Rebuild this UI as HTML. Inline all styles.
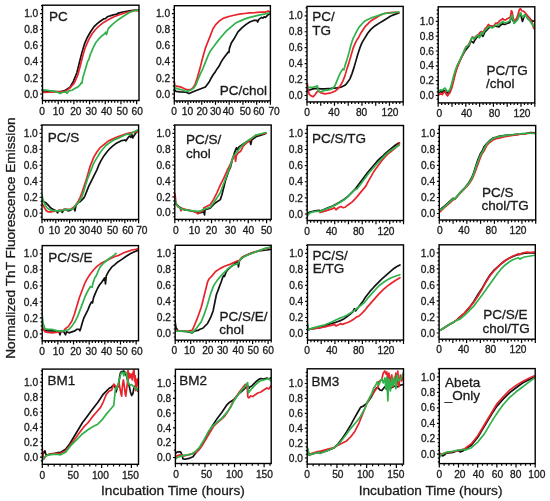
<!DOCTYPE html>
<html><head><meta charset="utf-8"><title>ThT Fluorescence</title>
<style>
html,body{margin:0;padding:0;background:#fff;}
body{width:550px;height:501px;overflow:hidden;}
svg{display:block;}
text{font-family:"Liberation Sans",Arial,Helvetica,sans-serif;fill:#1a1a1a;stroke:#1a1a1a;stroke-width:0.3px;}
.yl{font-size:10.2px;text-anchor:end;}
.xl{font-size:10.2px;text-anchor:middle;}
.pl{font-size:13.5px;}
.at{font-size:13.7px;}
</style></head>
<body>
<svg width="550" height="501" viewBox="0 0 550 501">
<defs><clipPath id="cR1C1"><rect x="42.5" y="5.2" width="96.5" height="95.3"/></clipPath><clipPath id="cR1C2"><rect x="174.3" y="5.7" width="96.1" height="95.2"/></clipPath><clipPath id="cR1C3"><rect x="307" y="6.4" width="96.2" height="95.5"/></clipPath><clipPath id="cR1C4"><rect x="438.2" y="6.8" width="96.6" height="96.1"/></clipPath><clipPath id="cR2C1"><rect x="42" y="125" width="96.6" height="94.5"/></clipPath><clipPath id="cR2C2"><rect x="174.8" y="125" width="96.4" height="94.4"/></clipPath><clipPath id="cR2C3"><rect x="307.2" y="125.5" width="96.3" height="95"/></clipPath><clipPath id="cR2C4"><rect x="439.3" y="125.5" width="96.4" height="94.5"/></clipPath><clipPath id="cR3C1"><rect x="42.2" y="245.6" width="96.3" height="95.2"/></clipPath><clipPath id="cR3C2"><rect x="175.2" y="245.3" width="96" height="94.9"/></clipPath><clipPath id="cR3C3"><rect x="307.5" y="244.9" width="96" height="95.2"/></clipPath><clipPath id="cR3C4"><rect x="439.1" y="244.8" width="96.2" height="94.4"/></clipPath><clipPath id="cR4C1"><rect x="42.3" y="369.1" width="96.2" height="95.2"/></clipPath><clipPath id="cR4C2"><rect x="175.4" y="369.3" width="95.8" height="94.2"/></clipPath><clipPath id="cR4C3"><rect x="307.2" y="368.8" width="96.3" height="95.3"/></clipPath><clipPath id="cR4C4"><rect x="439.3" y="368.6" width="95.9" height="95"/></clipPath></defs>
<rect width="550" height="501" fill="#fff"/>
<g clip-path="url(#cR1C1)" fill="none" stroke-width="1.7" stroke-linejoin="round" stroke-linecap="round"><polyline points="40,90.82 51.98,91.42 59.96,91.82 65,90.51 70.08,87.12 73.47,81.19 76.86,72.71 79.41,62.54 81.95,52.37 84.49,43.9 87.03,37.97 90.42,32.03 93.81,26.95 97.2,23.56 100.59,21.02 103.98,18.81 105.68,18.47 107.37,16.78 112.46,15.08 115.85,14.24 116.69,14.75 117.54,13.39 122.63,12.03 129.41,10.85 135,10 138.8,10.4" stroke="#111111"/><polyline points="40,92.42 49.98,92.22 59.96,91.62 65,91.36 70.08,87.97 74.32,82.88 77.71,75.25 80.25,65.93 82.8,55.76 85.34,47.29 88.73,39.66 92.12,33.73 95.51,29.49 98.9,26.1 103.98,22.2 109.07,19.32 114.15,16.78 119.24,14.75 126.02,12.54 135,10.51 138.8,10.6" stroke="#e8232b"/><polyline points="40,89.83 45.99,90.03 49.98,90.82 53.97,91.42 57.96,92.22 59.96,93.42 62.95,92.22 65.95,91.82 66.95,93.42 68.94,90.82 71.94,90.23 75.17,88.31 77.71,87.12 80.25,84.58 81.1,82.88 81.95,83.22 82.8,77.8 85.34,69.32 87.88,60.85 88.73,60 90.42,54.07 91.27,52.37 92.97,48.14 95.51,43.05 98.9,38.81 102.29,35.42 104.83,33.73 105.68,32.03 106.53,34.58 108.22,28.64 112.46,24.41 117.54,20.17 122.63,16.78 129.41,12.54 135,10.51 138.8,10.2" stroke="#2fb24a"/></g>
<path d="M41,98.02H42.5M40.1,94H42.5M41,89.98H42.5M41,85.96H42.5M41,81.94H42.5M40.1,77.92H42.5M41,73.9H42.5M41,69.88H42.5M41,65.86H42.5M40.1,61.84H42.5M41,57.82H42.5M41,53.8H42.5M41,49.78H42.5M40.1,45.76H42.5M41,41.74H42.5M41,37.72H42.5M41,33.7H42.5M40.1,29.68H42.5M41,25.66H42.5M41,21.64H42.5M41,17.62H42.5M40.1,13.6H42.5M41,9.58H42.5M41,5.56H42.5M42.5,100.5V104.3M45.64,100.5V102.7M48.78,100.5V102.7M51.91,100.5V102.7M55.05,100.5V102.7M58.19,100.5V104.3M61.33,100.5V102.7M64.47,100.5V102.7M67.61,100.5V102.7M70.74,100.5V102.7M73.88,100.5V104.3M77.02,100.5V102.7M80.16,100.5V102.7M83.3,100.5V102.7M86.43,100.5V102.7M89.57,100.5V104.3M92.71,100.5V102.7M95.85,100.5V102.7M98.99,100.5V102.7M102.13,100.5V102.7M105.26,100.5V104.3M108.4,100.5V102.7M111.54,100.5V102.7M114.68,100.5V102.7M117.82,100.5V102.7M120.96,100.5V104.3M124.09,100.5V102.7M127.23,100.5V102.7M130.37,100.5V102.7M133.51,100.5V102.7M136.65,100.5V104.3" stroke="#000" stroke-width="1.2" fill="none"/>
<rect x="42.5" y="5.2" width="96.5" height="95.3" fill="none" stroke="#000" stroke-width="1.4"/>
<text x="38.3" y="97.65" class="yl">0.0</text>
<text x="38.3" y="81.57" class="yl">0.2</text>
<text x="38.3" y="65.49" class="yl">0.4</text>
<text x="38.3" y="49.41" class="yl">0.6</text>
<text x="38.3" y="33.33" class="yl">0.8</text>
<text x="38.3" y="17.25" class="yl">1.0</text>
<text x="42.2" y="114.7" class="xl">0</text>
<text x="58.4" y="114.7" class="xl">10</text>
<text x="75.8" y="114.7" class="xl">20</text>
<text x="91.2" y="114.7" class="xl">30</text>
<text x="106.6" y="114.7" class="xl">40</text>
<text x="122.2" y="114.7" class="xl">50</text>
<text x="137.2" y="114.7" class="xl">60</text>
<text x="49.1" y="20.8" class="pl">PC</text>
<g clip-path="url(#cR1C2)" fill="none" stroke-width="1.7" stroke-linejoin="round" stroke-linecap="round"><polyline points="174,88.83 175.99,91.43 179.98,91.82 185.97,92.22 188.97,93.42 195,90.93 200.19,88.98 205.37,87.04 207.32,84.45 209.26,81.85 211.2,77.96 213.15,74.72 215.09,72.13 217.04,68.89 218.98,66.3 220.93,62.41 222.87,59.17 224.82,56.58 226.76,53.98 228.45,51.78 228.96,52.3 229.48,48.15 231.3,42.96 233.89,39.07 237.96,31.83 241.88,27.91 245.81,24.63 249.74,22.02 253.66,20.45 256.94,20.45 257.59,22.02 258.9,19.4 261.52,17.43 262.83,18.09 264.14,16.78 265.45,17.43 266.75,16.13 268.06,14.82 270.03,13.51" stroke="#111111"/><polyline points="174,79.85 174.99,85.84 177.99,86.44 181.98,87.43 185.97,89.43 187.97,89.83 190.96,89.43 192.96,87.83 194.95,84.84 197.59,76.67 200.19,67.59 202.78,57.22 205.37,48.15 207.96,41.67 210.56,35.19 213.09,28.56 215.71,24.63 219.63,20.71 223.56,18.09 228.8,16.52 234.03,15.21 239.27,14.16 244.5,13.51 249.74,12.85 254.97,12.59 260.21,12.2 265.45,12.2 268.06,10.89 270.03,12.2" stroke="#e8232b"/><polyline points="174,81.84 174.99,87.83 177.99,88.83 181.98,89.83 185.97,91.43 188.97,90.83 191.96,89.43 193.96,87.83 195.95,84.84 197.59,80.56 200.19,74.08 202.78,68.89 205.37,62.41 207.96,55.93 210.56,50.74 214.45,45.56 218.33,40.37 221.58,36.48 226.18,31.18 231.41,26.6 235.34,23.32 239.27,21.36 244.5,19.14 249.74,17.43 254.97,16.13 260.21,14.82 265.45,13.9 270.03,12.85" stroke="#2fb24a"/></g>
<path d="M172.8,98.02H174.3M171.9,94H174.3M172.8,89.98H174.3M172.8,85.96H174.3M172.8,81.94H174.3M171.9,77.92H174.3M172.8,73.9H174.3M172.8,69.88H174.3M172.8,65.86H174.3M171.9,61.84H174.3M172.8,57.82H174.3M172.8,53.8H174.3M172.8,49.78H174.3M171.9,45.76H174.3M172.8,41.74H174.3M172.8,37.72H174.3M172.8,33.7H174.3M171.9,29.68H174.3M172.8,25.66H174.3M172.8,21.64H174.3M172.8,17.62H174.3M171.9,13.6H174.3M172.8,9.58H174.3M174.3,100.9V104.7M177.05,100.9V103.1M179.79,100.9V103.1M182.54,100.9V103.1M185.28,100.9V103.1M188.03,100.9V104.7M190.77,100.9V103.1M193.52,100.9V103.1M196.27,100.9V103.1M199.01,100.9V103.1M201.76,100.9V104.7M204.5,100.9V103.1M207.25,100.9V103.1M209.99,100.9V103.1M212.74,100.9V103.1M215.49,100.9V104.7M218.23,100.9V103.1M220.98,100.9V103.1M223.72,100.9V103.1M226.47,100.9V103.1M229.21,100.9V104.7M231.96,100.9V103.1M234.71,100.9V103.1M237.45,100.9V103.1M240.2,100.9V103.1M242.94,100.9V104.7M245.69,100.9V103.1M248.43,100.9V103.1M251.18,100.9V103.1M253.93,100.9V103.1M256.67,100.9V104.7M259.42,100.9V103.1M262.16,100.9V103.1M264.91,100.9V103.1M267.65,100.9V103.1M270.4,100.9V104.7" stroke="#000" stroke-width="1.2" fill="none"/>
<rect x="174.3" y="5.7" width="96.1" height="95.2" fill="none" stroke="#000" stroke-width="1.4"/>
<text x="170.1" y="97.65" class="yl">0.0</text>
<text x="170.1" y="81.57" class="yl">0.2</text>
<text x="170.1" y="65.49" class="yl">0.4</text>
<text x="170.1" y="49.41" class="yl">0.6</text>
<text x="170.1" y="33.33" class="yl">0.8</text>
<text x="170.1" y="17.25" class="yl">1.0</text>
<text x="174.2" y="115.1" class="xl">0</text>
<text x="187.5" y="115.1" class="xl">10</text>
<text x="202.1" y="115.1" class="xl">20</text>
<text x="215.6" y="115.1" class="xl">30</text>
<text x="228.3" y="115.1" class="xl">40</text>
<text x="245.3" y="115.1" class="xl">50</text>
<text x="258.8" y="115.1" class="xl">60</text>
<text x="274.1" y="115.1" class="xl">70</text>
<text x="219.7" y="95.3" class="pl">PC/chol</text>
<g clip-path="url(#cR1C3)" fill="none" stroke-width="1.7" stroke-linejoin="round" stroke-linecap="round"><polyline points="307.4,90.83 309.99,89.83 312.98,88.83 316.98,88.43 320.97,88.83 324.96,88.83 330.95,88.43 336.94,87.83 340.93,87.24 343.92,85.84 345.92,84.44 347.91,81.85 349.91,78.85 351.91,73.86 353.9,67.87 355.9,60.89 357.89,53.9 359.89,47.91 361.89,42.92 364.88,37.93 367.87,32.94 370.87,29.35 374.86,25.96 378.85,23.36 382.84,20.97 386.84,18.57 390.83,15.98 394.82,14.38 398.81,12.98" stroke="#111111"/><polyline points="307.4,83.84 307.99,88.83 308.99,93.82 310.99,95.82 312.98,96.82 314.98,94.82 316.98,91.83 318.97,91.23 320.97,92.82 324.96,93.82 327.95,93.42 330.95,92.82 334.94,91.23 337.93,88.83 340.93,84.84 342.92,80.85 344.92,75.86 346.92,68.87 348.91,62.88 350.91,55.9 352.9,48.91 354.9,43.92 356.9,39.93 358.89,36.94 360.89,32.94 362.88,29.95 364.88,26.96 367.87,23.96 370.87,20.97 374.86,18.57 378.85,15.98 382.84,13.98 386.84,12.98 392.82,12.39 398.81,12.39" stroke="#e8232b"/><polyline points="307.4,87.83 309.99,87.44 312.98,87.24 315.98,86.44 317.38,85.84 317.97,90.83 319.97,91.83 321.97,91.23 324.96,90.43 328.95,89.83 331.95,88.83 334.94,85.84 336.94,80.85 338.93,75.86 340.93,71.87 342.92,68.87 343.92,69.87 344.92,65.88 346.92,59.89 348.91,52.9 350.91,44.92 352.9,38.93 354.9,34.94 356.9,30.95 358.89,27.36 361.89,23.96 364.88,20.97 368.87,18.97 372.86,17.38 376.86,15.98 380.85,14.58 384.84,13.38 390.83,12.98 398.81,11.99" stroke="#2fb24a"/></g>
<path d="M305.5,99.48H307M304.6,95.5H307M305.5,91.52H307M305.5,87.53H307M305.5,83.55H307M304.6,79.56H307M305.5,75.58H307M305.5,71.59H307M305.5,67.61H307M304.6,63.62H307M305.5,59.63H307M305.5,55.65H307M305.5,51.66H307M304.6,47.68H307M305.5,43.69H307M305.5,39.71H307M305.5,35.72H307M304.6,31.74H307M305.5,27.75H307M305.5,23.77H307M305.5,19.78H307M304.6,15.8H307M305.5,11.81H307M305.5,7.83H307M307,101.9V105.7M310.44,101.9V104.1M313.87,101.9V104.1M317.31,101.9V104.1M320.74,101.9V105.7M324.18,101.9V104.1M327.61,101.9V104.1M331.05,101.9V104.1M334.49,101.9V105.7M337.92,101.9V104.1M341.36,101.9V104.1M344.79,101.9V104.1M348.23,101.9V105.7M351.66,101.9V104.1M355.1,101.9V104.1M358.54,101.9V104.1M361.97,101.9V105.7M365.41,101.9V104.1M368.84,101.9V104.1M372.28,101.9V104.1M375.71,101.9V105.7M379.15,101.9V104.1M382.59,101.9V104.1M386.02,101.9V104.1M389.46,101.9V105.7M392.89,101.9V104.1M396.33,101.9V104.1M399.76,101.9V104.1M403.2,101.9V105.7" stroke="#000" stroke-width="1.2" fill="none"/>
<rect x="307" y="6.4" width="96.2" height="95.5" fill="none" stroke="#000" stroke-width="1.4"/>
<text x="302.8" y="99.15" class="yl">0.0</text>
<text x="302.8" y="83.21" class="yl">0.2</text>
<text x="302.8" y="67.27" class="yl">0.4</text>
<text x="302.8" y="51.33" class="yl">0.6</text>
<text x="302.8" y="35.39" class="yl">0.8</text>
<text x="302.8" y="19.45" class="yl">1.0</text>
<text x="307" y="116.1" class="xl">0</text>
<text x="334" y="116.1" class="xl">40</text>
<text x="361.6" y="116.1" class="xl">80</text>
<text x="390" y="116.1" class="xl">120</text>
<text x="312.2" y="20.9" class="pl">PC/</text>
<text x="312.2" y="34.5" class="pl">TG</text>
<g clip-path="url(#cR1C4)" fill="none" stroke-width="1.7" stroke-linejoin="round" stroke-linecap="round"><polyline points="438.6,92.82 440.4,91.62 442.2,92.22 444,90.42 445.2,91.02 446.4,92.82 448.2,92.82 450,91.02 451.81,85.62 453.61,78.42 455.41,71.81 457.21,66.41 459.01,62.21 464.98,50.91 466.98,48.42 468.97,45.92 470.97,40.93 473.46,42.93 474.96,39.94 476.96,36.94 478.95,36.44 480.95,34.45 482.94,36.44 484.94,31.95 486.94,29.96 488.93,27.96 490.93,25.96 492.92,26.46 494.92,25.96 496.92,26.46 498.91,26.96 500.91,24.97 502.63,23.7 504.16,24.47 505.69,24.08 507.21,23.32 508.74,22.94 509.89,22.18 511.03,17.6 511.79,16.45 512.94,20.27 514.08,22.56 515.61,21.03 517.14,19.89 518.66,16.45 519.81,13.78 520.57,13.4 521.72,18.74 522.48,21.41 523.63,17.98 524.77,14.92 526.3,14.92 527.82,16.45 529.35,17.98 530.88,19.89 532.4,21.03 533.55,21.03 534.31,20.65" stroke="#111111"/><polyline points="438.6,95.22 440.4,93.42 442.2,94.62 444,92.22 445.2,91.62 446.4,94.62 447.6,95.82 450,92.82 451.81,88.02 453.61,80.82 455.41,73.61 457.21,67.61 459.01,63.41 465.98,46.92 467.97,45.43 469.97,41.93 472.47,36.94 473.96,37.94 475.46,36.94 476.96,35.45 478.45,34.45 479.95,32.45 481.45,31.45 482.94,32.95 484.94,28.96 486.94,26.96 488.43,24.47 489.93,25.96 491.93,26.46 493.92,25.47 495.92,22.97 497.42,23.47 499.41,20.97 500.91,19.98 502.63,18.74 504.16,19.89 505.69,19.89 507.21,18.74 508.74,17.98 510.27,17.21 511.41,10.73 512.18,11.87 512.94,16.45 514.08,21.03 515.61,19.89 517.14,17.21 518.28,13.4 519.43,9.58 520.57,8.82 521.72,10.73 523.24,11.11 524.77,12.25 526.3,14.16 527.82,16.45 529.35,17.98 530.88,20.27 532.4,23.32 533.55,27.9 534.31,28.66" stroke="#e8232b"/><polyline points="438.6,91.62 440.4,89.82 442.2,90.42 444,88.62 445.2,88.02 446.4,90.42 448.2,91.62 450,89.22 451.81,83.22 453.61,76.01 455.41,70.01 457.21,65.21 459.01,62.21 465.48,47.92 466.98,46.42 468.97,44.93 470.47,40.93 471.97,37.44 473.46,38.94 474.96,37.94 476.46,35.94 477.95,34.95 479.45,37.94 480.45,35.94 481.45,32.45 482.94,33.95 484.44,30.95 485.94,29.46 487.44,27.96 488.93,26.46 490.43,26.96 491.93,27.96 493.92,26.96 495.92,24.97 497.42,25.47 498.91,24.47 500.41,22.97 501.91,22.47 502.63,21.41 504.16,22.56 505.69,22.94 507.21,22.18 508.74,21.41 510.27,20.27 511.41,16.07 512.18,15.31 512.94,18.74 514.08,23.32 515.61,21.79 517.14,20.27 518.66,17.21 519.81,13.78 520.57,12.63 521.72,15.69 523.24,17.21 524.77,14.54 526.3,16.45 527.82,19.12 529.35,20.27 530.88,22.56 532.4,24.85 533.55,26.37 534.31,25.61" stroke="#2fb24a"/></g>
<path d="M436.7,99.21H438.2M435.8,95.5H438.2M436.7,91.79H438.2M436.7,88.08H438.2M436.7,84.37H438.2M435.8,80.66H438.2M436.7,76.95H438.2M436.7,73.24H438.2M436.7,69.53H438.2M435.8,65.82H438.2M436.7,62.11H438.2M436.7,58.4H438.2M436.7,54.69H438.2M435.8,50.98H438.2M436.7,47.27H438.2M436.7,43.56H438.2M436.7,39.85H438.2M435.8,36.14H438.2M436.7,32.43H438.2M436.7,28.72H438.2M436.7,25.01H438.2M435.8,21.3H438.2M436.7,17.59H438.2M436.7,13.88H438.2M436.7,10.17H438.2M438.2,102.9V106.7M441.65,102.9V105.1M445.1,102.9V105.1M448.55,102.9V105.1M452,102.9V106.7M455.45,102.9V105.1M458.9,102.9V105.1M462.35,102.9V105.1M465.8,102.9V106.7M469.25,102.9V105.1M472.7,102.9V105.1M476.15,102.9V105.1M479.6,102.9V106.7M483.05,102.9V105.1M486.5,102.9V105.1M489.95,102.9V105.1M493.4,102.9V106.7M496.85,102.9V105.1M500.3,102.9V105.1M503.75,102.9V105.1M507.2,102.9V106.7M510.65,102.9V105.1M514.1,102.9V105.1M517.55,102.9V105.1M521,102.9V106.7M524.45,102.9V105.1M527.9,102.9V105.1M531.35,102.9V105.1M534.8,102.9V106.7" stroke="#000" stroke-width="1.2" fill="none"/>
<rect x="438.2" y="6.8" width="96.6" height="96.1" fill="none" stroke="#000" stroke-width="1.4"/>
<text x="434" y="99.15" class="yl">0.0</text>
<text x="434" y="84.31" class="yl">0.2</text>
<text x="434" y="69.47" class="yl">0.4</text>
<text x="434" y="54.63" class="yl">0.6</text>
<text x="434" y="39.79" class="yl">0.8</text>
<text x="434" y="24.95" class="yl">1.0</text>
<text x="439.4" y="117.1" class="xl">0</text>
<text x="466.6" y="117.1" class="xl">40</text>
<text x="494.5" y="117.1" class="xl">80</text>
<text x="522" y="117.1" class="xl">120</text>
<text x="486.4" y="75.2" class="pl">PC/TG</text>
<text x="486" y="87.7" class="pl">/chol</text>
<g clip-path="url(#cR2C1)" fill="none" stroke-width="1.7" stroke-linejoin="round" stroke-linecap="round"><polyline points="42,200.84 43.99,201.84 45.99,202.84 47.98,204.84 49.98,207.23 51.98,208.83 53.97,209.83 55.97,210.82 57.56,212.82 58.96,210.43 60.96,210.82 62.36,212.42 63.95,209.23 65.95,209.23 67.94,210.82 69.94,210.43 71.94,209.23 73.93,207.83 74.93,210.82 75.93,205.83 77.92,202.84 79.92,201.84 81.92,199.85 82.91,198.85 83.91,197.85 84.91,195.85 86.91,190.86 88.9,185.87 90.9,181.88 92.89,177.89 94.89,173.9 96.89,169.91 98.88,164.92 100.88,160.92 103.87,155.93 106.87,151.94 109.86,148.55 112.85,145.95 115.85,143.56 118.84,141.96 121.84,140.56 124.83,139.97 125.83,140.96 127.82,137.97 129.82,135.97 130.82,137.37 131.82,134.58 132.81,137.97 133.81,135.97 135.81,132.98 137.8,130.98" stroke="#111111"/><polyline points="42,203.84 43.99,206.83 45.99,210.43 47.98,211.82 50.98,211.82 53.97,211.42 56.97,210.82 59.96,210.43 63.95,209.83 67.94,209.23 70.94,209.23 73.93,206.83 75.93,204.84 77.92,201.84 79.92,197.85 81.92,192.86 83.91,186.87 85.91,180.88 87.9,173.9 89.9,166.91 91.9,161.92 93.89,156.93 96.89,151.94 99.88,147.95 103.87,144.56 107.86,141.36 111.86,139.37 115.85,137.57 119.84,135.97 123.83,134.58 127.82,133.38 131.82,132.58 135.81,131.98 138.8,131.38" stroke="#e8232b"/><polyline points="42,194.86 42.99,199.85 44.99,204.84 46.99,207.83 48.98,209.23 51.98,210.43 54.97,210.82 57.96,210.82 60.96,210.82 63.95,209.83 67.94,209.83 71.94,209.23 73.93,207.83 75.93,204.84 77.92,202.84 79.92,200.45 81.92,196.85 83.91,190.86 85.91,183.88 87.9,177.89 89.9,172.9 91.9,167.91 93.89,162.92 96.89,157.93 99.88,152.94 102.87,148.95 105.87,145.55 109.86,142.56 113.85,139.97 117.84,138.37 121.84,136.57 124.83,134.98 127.82,133.98 129.82,134.98 131.82,132.98 134.81,131.38 137.8,129.99" stroke="#2fb24a"/></g>
<path d="M40.5,217.19H42M39.6,213.2H42M40.5,209.21H42M40.5,205.22H42M40.5,201.23H42M39.6,197.24H42M40.5,193.25H42M40.5,189.26H42M40.5,185.27H42M39.6,181.28H42M40.5,177.29H42M40.5,173.3H42M40.5,169.31H42M39.6,165.32H42M40.5,161.33H42M40.5,157.34H42M40.5,153.35H42M39.6,149.36H42M40.5,145.37H42M40.5,141.38H42M40.5,137.39H42M39.6,133.4H42M40.5,129.41H42M40.5,125.42H42M42,219.5V223.3M44.76,219.5V221.7M47.52,219.5V221.7M50.28,219.5V221.7M53.04,219.5V221.7M55.8,219.5V223.3M58.56,219.5V221.7M61.32,219.5V221.7M64.08,219.5V221.7M66.84,219.5V221.7M69.6,219.5V223.3M72.36,219.5V221.7M75.12,219.5V221.7M77.88,219.5V221.7M80.64,219.5V221.7M83.4,219.5V223.3M86.16,219.5V221.7M88.92,219.5V221.7M91.68,219.5V221.7M94.44,219.5V221.7M97.2,219.5V223.3M99.96,219.5V221.7M102.72,219.5V221.7M105.48,219.5V221.7M108.24,219.5V221.7M111,219.5V223.3M113.76,219.5V221.7M116.52,219.5V221.7M119.28,219.5V221.7M122.04,219.5V221.7M124.8,219.5V223.3M127.56,219.5V221.7M130.32,219.5V221.7M133.08,219.5V221.7M135.84,219.5V221.7M138.6,219.5V223.3" stroke="#000" stroke-width="1.2" fill="none"/>
<rect x="42" y="125" width="96.6" height="94.5" fill="none" stroke="#000" stroke-width="1.4"/>
<text x="37.8" y="216.85" class="yl">0.0</text>
<text x="37.8" y="200.89" class="yl">0.2</text>
<text x="37.8" y="184.93" class="yl">0.4</text>
<text x="37.8" y="168.97" class="yl">0.6</text>
<text x="37.8" y="153.01" class="yl">0.8</text>
<text x="37.8" y="137.05" class="yl">1.0</text>
<text x="41.3" y="233.7" class="xl">0</text>
<text x="54.4" y="233.7" class="xl">10</text>
<text x="70" y="233.7" class="xl">20</text>
<text x="84.6" y="233.7" class="xl">30</text>
<text x="96.4" y="233.7" class="xl">40</text>
<text x="112.6" y="233.7" class="xl">50</text>
<text x="127.8" y="233.7" class="xl">60</text>
<text x="141.8" y="233.7" class="xl">70</text>
<text x="47.7" y="141.8" class="pl">PC/S</text>
<g clip-path="url(#cR2C2)" fill="none" stroke-width="1.7" stroke-linejoin="round" stroke-linecap="round"><polyline points="175,201.84 176.99,204.84 178.99,206.83 181.98,208.83 184.98,209.83 188.97,210.43 192.96,211.22 195.95,211.82 198.95,212.82 201.94,212.42 203.34,210.82 204.54,214.82 205,209.8 210.09,208.1 215.19,203.01 220.28,199.61 221.98,194.52 223.68,187.72 225.37,180.93 227.07,175.84 228.77,170.75 230.47,167.35 232.16,160.56 234.71,152.07 236.41,147.83 237.26,149.52 238.96,146.98 241.5,145.28 244.9,142.73 249.14,141.04 249.99,141.54 250.84,144.43 251.69,140.19 255.93,136.79 261.03,135.09 265.78,133.4" stroke="#111111"/><polyline points="175,193.86 175.99,203.84 177.99,206.83 179.99,207.83 180.98,210.82 181.98,208.43 184.98,209.23 188.97,210.43 192.96,211.22 195.95,212.42 197.95,213.82 199.95,211.82 202.94,210.82 203.94,207.83 205,207.25 210.09,204.7 213.49,199.61 216.88,192.82 220.28,185.18 223.68,178.39 227.07,170.75 230.47,163.96 233.01,157.16 234.71,155.47 235.56,161.41 236.41,155.47 238.11,152.92 240.65,151.22 241.5,149.52 243.2,146.13 245.75,143.58 249.14,141.04 252.54,137.64 255.93,135.09 261.03,134.24 265.78,133.06" stroke="#e8232b"/><polyline points="175,199.85 175.99,203.84 177.99,206.43 180.98,208.83 184.98,209.83 188.97,210.43 192.96,210.82 196.95,211.42 200.94,210.82 203.94,209.23 205,208.95 210.09,207.25 213.49,203.01 216.88,197.91 220.28,192.82 222.83,186.03 225.37,179.24 227.92,172.44 230.47,165.65 232.16,159.71 233.86,155.47 235.56,153.77 238.11,150.37 240.65,146.98 244.05,143.58 248.29,140.19 252.54,137.64 255.93,135.09 259.33,134.24 265.78,132.55" stroke="#2fb24a"/></g>
<path d="M173.3,216.77H174.8M172.4,212.8H174.8M173.3,208.83H174.8M173.3,204.86H174.8M173.3,200.89H174.8M172.4,196.92H174.8M173.3,192.95H174.8M173.3,188.98H174.8M173.3,185.01H174.8M172.4,181.04H174.8M173.3,177.07H174.8M173.3,173.1H174.8M173.3,169.13H174.8M172.4,165.16H174.8M173.3,161.19H174.8M173.3,157.22H174.8M173.3,153.25H174.8M172.4,149.28H174.8M173.3,145.31H174.8M173.3,141.34H174.8M173.3,137.37H174.8M172.4,133.4H174.8M173.3,129.43H174.8M173.3,125.46H174.8M174.8,219.4V223.2M178.47,219.4V221.6M182.14,219.4V221.6M185.82,219.4V221.6M189.49,219.4V221.6M193.16,219.4V223.2M196.83,219.4V221.6M200.51,219.4V221.6M204.18,219.4V221.6M207.85,219.4V221.6M211.52,219.4V223.2M215.2,219.4V221.6M218.87,219.4V221.6M222.54,219.4V221.6M226.21,219.4V221.6M229.89,219.4V223.2M233.56,219.4V221.6M237.23,219.4V221.6M240.9,219.4V221.6M244.58,219.4V221.6M248.25,219.4V223.2M251.92,219.4V221.6M255.59,219.4V221.6M259.26,219.4V221.6M262.94,219.4V221.6M266.61,219.4V223.2M270.28,219.4V221.6" stroke="#000" stroke-width="1.2" fill="none"/>
<rect x="174.8" y="125" width="96.4" height="94.4" fill="none" stroke="#000" stroke-width="1.4"/>
<text x="170.6" y="216.45" class="yl">0.0</text>
<text x="170.6" y="200.57" class="yl">0.2</text>
<text x="170.6" y="184.69" class="yl">0.4</text>
<text x="170.6" y="168.81" class="yl">0.6</text>
<text x="170.6" y="152.93" class="yl">0.8</text>
<text x="170.6" y="137.05" class="yl">1.0</text>
<text x="175.8" y="233.6" class="xl">0</text>
<text x="194.4" y="233.6" class="xl">10</text>
<text x="211.4" y="233.6" class="xl">20</text>
<text x="230.4" y="233.6" class="xl">30</text>
<text x="248.4" y="233.6" class="xl">40</text>
<text x="266.6" y="233.6" class="xl">50</text>
<text x="186" y="143.5" class="pl">PC/S/</text>
<text x="186" y="157.7" class="pl">chol</text>
<g clip-path="url(#cR2C3)" fill="none" stroke-width="1.7" stroke-linejoin="round" stroke-linecap="round"><polyline points="307,213.82 308.99,212.42 310.99,211.82 314.98,210.82 318.97,210.23 320,211.09 323.99,209.49 327.98,207.89 331.98,206.3 335.97,204.3 339.96,201.91 343.95,199.51 347.94,196.32 351.94,192.33 355.13,189.21 356,187.9 358.99,183.91 361.99,179.92 364.98,175.93 367.97,171.94 370.97,168.44 373.96,164.95 376.96,161.46 379.95,158.46 382.94,155.97 385.94,152.97 388.93,150.48 391.93,147.98 394.92,145.49 397.91,143.49 399.41,142.79" stroke="#111111"/><polyline points="320,212.52 323.99,211.33 327.98,210.13 331.98,208.93 334.37,207.73 335.97,209.73 338.36,207.73 340.76,206.54 343.15,207.73 345.55,206.94 347.94,204.94 351.94,202.15 355.13,198.95 357.52,196.16 365.98,185.91 367.97,181.92 369.97,178.42 371.97,174.93 373.96,171.44 375.96,168.44 378.95,164.45 381.95,160.46 384.94,156.97 387.93,153.97 390.93,151.48 393.92,148.98 396.92,146.49 398.91,143.99 399.41,142.99" stroke="#e8232b"/><polyline points="307,217.81 307.99,214.82 309.99,212.82 312.98,211.82 316.98,211.22 320,211.41 323.99,209.81 327.98,208.21 331.98,206.62 335.97,204.7 339.96,202.31 343.95,199.91 347.94,196.72 351.94,192.72 355.13,189.53 357,188.9 359.99,184.91 362.98,180.92 365.98,176.93 368.97,172.93 371.97,169.44 374.96,165.95 377.95,162.75 380.95,159.46 383.94,156.47 386.94,153.47 389.93,150.98 392.92,148.98 395.92,146.99 398.91,145.49 399.41,144.99" stroke="#2fb24a"/></g>
<path d="M305.7,218.03H307.2M304.8,214H307.2M305.7,209.97H307.2M305.7,205.94H307.2M305.7,201.91H307.2M304.8,197.88H307.2M305.7,193.85H307.2M305.7,189.82H307.2M305.7,185.79H307.2M304.8,181.76H307.2M305.7,177.73H307.2M305.7,173.7H307.2M305.7,169.67H307.2M304.8,165.64H307.2M305.7,161.61H307.2M305.7,157.58H307.2M305.7,153.55H307.2M304.8,149.52H307.2M305.7,145.49H307.2M305.7,141.46H307.2M305.7,137.43H307.2M304.8,133.4H307.2M305.7,129.37H307.2M307.2,220.5V224.3M310.64,220.5V222.7M314.08,220.5V222.7M317.52,220.5V222.7M320.96,220.5V224.3M324.4,220.5V222.7M327.84,220.5V222.7M331.27,220.5V222.7M334.71,220.5V224.3M338.15,220.5V222.7M341.59,220.5V222.7M345.03,220.5V222.7M348.47,220.5V224.3M351.91,220.5V222.7M355.35,220.5V222.7M358.79,220.5V222.7M362.23,220.5V224.3M365.67,220.5V222.7M369.11,220.5V222.7M372.55,220.5V222.7M375.99,220.5V224.3M379.43,220.5V222.7M382.86,220.5V222.7M386.3,220.5V222.7M389.74,220.5V224.3M393.18,220.5V222.7M396.62,220.5V222.7M400.06,220.5V222.7M403.5,220.5V224.3" stroke="#000" stroke-width="1.2" fill="none"/>
<rect x="307.2" y="125.5" width="96.3" height="95" fill="none" stroke="#000" stroke-width="1.4"/>
<text x="303" y="217.65" class="yl">0.0</text>
<text x="303" y="201.53" class="yl">0.2</text>
<text x="303" y="185.41" class="yl">0.4</text>
<text x="303" y="169.29" class="yl">0.6</text>
<text x="303" y="153.17" class="yl">0.8</text>
<text x="303" y="137.05" class="yl">1.0</text>
<text x="307.2" y="234.7" class="xl">0</text>
<text x="331.6" y="234.7" class="xl">40</text>
<text x="358.6" y="234.7" class="xl">80</text>
<text x="386" y="234.7" class="xl">120</text>
<text x="312.1" y="142.6" class="pl">PC/S/TG</text>
<g clip-path="url(#cR2C4)" fill="none" stroke-width="1.7" stroke-linejoin="round" stroke-linecap="round"><polyline points="439.4,210.82 440.99,208.83 443.99,206.43 446.98,203.84 449.97,201.24 452.97,198.45 455,198.7 459.99,192.71 464.98,187.72 468.97,182.44 471.77,177.45 473.76,172.46 475.66,166.47 477.95,159.48 480.45,153.49 482.45,150.5 483.97,146.72 486.97,143.28 489.96,140.28 492.96,138.18 495.96,137.28 498.95,136.24 503.45,135.49 507.94,135.04 512.43,134.74 516.93,134.29 521.42,133.99 525.92,133.54 530.41,132.49 536.4,132.79" stroke="#111111"/><polyline points="439.4,212.42 440.99,210.82 443.99,207.83 446.98,205.24 449.97,202.84 452.97,199.85 455,199.1 459.99,193.41 464.98,188.42 468.97,183.93 472.47,178.44 474.76,172.95 476.96,166.97 479.45,159.98 481.95,153.99 483.94,151 486.97,145.22 489.96,142.23 492.96,139.98 495.96,138.78 498.95,138.18 503.45,136.99 507.94,136.24 512.43,135.49 516.93,134.89 521.42,133.99 525.92,133.69 530.41,133.24 536.4,133.24" stroke="#e8232b"/><polyline points="439.4,208.83 440.99,209.83 443.99,207.23 446.98,204.44 449.97,201.84 452.97,198.85 455,198.9 459.99,192.91 464.98,187.92 468.97,182.93 471.97,177.94 473.96,172.95 475.96,166.97 478.45,159.98 480.95,153.99 482.94,151 484.72,147.17 486.97,143.73 489.96,140.73 492.96,138.48 495.96,137.28 498.95,136.69 503.45,135.79 507.94,135.19 512.43,134.74 516.93,133.99 521.42,133.69 525.92,133.24 530.41,133.24 536.4,133.69" stroke="#2fb24a"/></g>
<path d="M437.8,217.5H439.3M436.9,213.5H439.3M437.8,209.5H439.3M437.8,205.49H439.3M437.8,201.49H439.3M436.9,197.48H439.3M437.8,193.47H439.3M437.8,189.47H439.3M437.8,185.47H439.3M436.9,181.46H439.3M437.8,177.45H439.3M437.8,173.45H439.3M437.8,169.44H439.3M436.9,165.44H439.3M437.8,161.44H439.3M437.8,157.43H439.3M437.8,153.43H439.3M436.9,149.42H439.3M437.8,145.42H439.3M437.8,141.41H439.3M437.8,137.41H439.3M436.9,133.4H439.3M437.8,129.39H439.3M439.3,220V223.8M442.74,220V222.2M446.19,220V222.2M449.63,220V222.2M453.07,220V223.8M456.51,220V222.2M459.96,220V222.2M463.4,220V222.2M466.84,220V223.8M470.29,220V222.2M473.73,220V222.2M477.17,220V222.2M480.61,220V223.8M484.06,220V222.2M487.5,220V222.2M490.94,220V222.2M494.39,220V223.8M497.83,220V222.2M501.27,220V222.2M504.71,220V222.2M508.16,220V223.8M511.6,220V222.2M515.04,220V222.2M518.49,220V222.2M521.93,220V223.8M525.37,220V222.2M528.81,220V222.2M532.26,220V222.2M535.7,220V223.8" stroke="#000" stroke-width="1.2" fill="none"/>
<rect x="439.3" y="125.5" width="96.4" height="94.5" fill="none" stroke="#000" stroke-width="1.4"/>
<text x="435.1" y="217.15" class="yl">0.0</text>
<text x="435.1" y="201.13" class="yl">0.2</text>
<text x="435.1" y="185.11" class="yl">0.4</text>
<text x="435.1" y="169.09" class="yl">0.6</text>
<text x="435.1" y="153.07" class="yl">0.8</text>
<text x="435.1" y="137.05" class="yl">1.0</text>
<text x="439.8" y="234.2" class="xl">0</text>
<text x="464" y="234.2" class="xl">40</text>
<text x="491.2" y="234.2" class="xl">80</text>
<text x="518" y="234.2" class="xl">120</text>
<text x="481.9" y="196.9" class="pl">PC/S</text>
<text x="481.5" y="210.4" class="pl">chol/TG</text>
<g clip-path="url(#cR3C1)" fill="none" stroke-width="1.7" stroke-linejoin="round" stroke-linecap="round"><polyline points="42,326.83 42.99,328.83 44.99,330.43 47.98,330.82 51.98,330.82 55.97,331.22 58.96,331.82 59.96,334.82 60.96,331.22 63.95,331.82 65.55,334.82 66.55,331.82 68.94,332.82 71.94,331.82 74.93,330.82 76.93,329.23 78.92,329.23 79.92,330.82 80.92,327.83 82.32,322.84 83.91,317.85 85.91,313.86 87.9,309.87 89.9,304.88 91.5,301.88 92.5,302.88 93.49,297.89 95.49,292.9 97.49,288.51 99.48,284.92 101.88,281.92 103.87,278.93 104.87,277.93 105.47,283.92 106.27,275.93 108.86,270.94 111.86,266.95 114.85,264.56 117.84,261.96 121.84,259.37 125.83,256.57 129.82,253.98 133.81,251.98 137.8,250.39" stroke="#111111"/><polyline points="42,322.84 42.99,328.83 44.99,331.82 47.98,332.42 51.98,332.82 55.97,332.42 59.96,331.82 63.95,330.43 65,328.95 68.4,326.4 71.79,321.31 74.34,314.52 76.88,306.03 79.43,297.54 81.98,290.75 84.52,283.96 87.07,278.86 90.47,273.77 93.86,269.52 97.26,266.13 100.65,263.58 104.05,261.88 109.14,259.34 114.24,256.79 119.33,255.09 124.42,252.55 129.52,250.85 131.82,249.99 135.81,249.39 138.8,248.59" stroke="#e8232b"/><polyline points="42,313.86 42.99,322.84 44.99,328.83 47.98,329.43 50.98,329.23 53.97,329.83 56.97,330.82 59.96,330.82 62.95,330.82 65,330.65 68.4,329.8 71.79,326.4 75.19,321.31 77.73,316.21 80.28,309.42 82.83,302.63 85.37,295.84 87.92,290.75 90.47,286.5 92.16,287.35 93.01,283.11 94.71,278.01 96.41,275.47 98.11,271.22 99.8,267.83 101.5,265.28 104.05,262.73 109.14,258.49 114.24,255.09 115.93,253.4" stroke="#2fb24a"/></g>
<path d="M40.7,337.9H42.2M39.8,333.9H42.2M40.7,329.89H42.2M40.7,325.89H42.2M40.7,321.88H42.2M39.8,317.88H42.2M40.7,313.88H42.2M40.7,309.87H42.2M40.7,305.87H42.2M39.8,301.86H42.2M40.7,297.86H42.2M40.7,293.85H42.2M40.7,289.84H42.2M39.8,285.84H42.2M40.7,281.83H42.2M40.7,277.83H42.2M40.7,273.82H42.2M39.8,269.82H42.2M40.7,265.81H42.2M40.7,261.81H42.2M40.7,257.81H42.2M39.8,253.8H42.2M40.7,249.8H42.2M42.2,340.8V344.6M45.33,340.8V343M48.46,340.8V343M51.6,340.8V343M54.73,340.8V343M57.86,340.8V344.6M60.99,340.8V343M64.12,340.8V343M67.25,340.8V343M70.39,340.8V343M73.52,340.8V344.6M76.65,340.8V343M79.78,340.8V343M82.91,340.8V343M86.04,340.8V343M89.18,340.8V344.6M92.31,340.8V343M95.44,340.8V343M98.57,340.8V343M101.7,340.8V343M104.83,340.8V344.6M107.97,340.8V343M111.1,340.8V343M114.23,340.8V343M117.36,340.8V343M120.49,340.8V344.6M123.62,340.8V343M126.76,340.8V343M129.89,340.8V343M133.02,340.8V343M136.15,340.8V344.6" stroke="#000" stroke-width="1.2" fill="none"/>
<rect x="42.2" y="245.6" width="96.3" height="95.2" fill="none" stroke="#000" stroke-width="1.4"/>
<text x="38" y="337.55" class="yl">0.0</text>
<text x="38" y="321.53" class="yl">0.2</text>
<text x="38" y="305.51" class="yl">0.4</text>
<text x="38" y="289.49" class="yl">0.6</text>
<text x="38" y="273.47" class="yl">0.8</text>
<text x="38" y="257.45" class="yl">1.0</text>
<text x="42.2" y="355" class="xl">0</text>
<text x="58.4" y="355" class="xl">10</text>
<text x="75.8" y="355" class="xl">20</text>
<text x="91.2" y="355" class="xl">30</text>
<text x="106.6" y="355" class="xl">40</text>
<text x="122" y="355" class="xl">50</text>
<text x="137" y="355" class="xl">60</text>
<text x="48.2" y="261.5" class="pl">PC/S/E</text>
<g clip-path="url(#cR3C2)" fill="none" stroke-width="1.7" stroke-linejoin="round" stroke-linecap="round"><polyline points="175,320.84 175.99,327.83 177.99,330.82 180.98,331.22 184.98,331.42 188.97,331.82 191.96,332.82 192.96,332.42 194.96,330.82 197.95,330.43 199.95,329.23 202.78,328.27 207.57,323.48 210.77,317.09 213.16,310.7 214.76,302.72 216.36,294.73 218.75,288.34 221.15,281.95 222.75,277.16 223.87,275.56 224.5,276.36 225.94,272.36 227.54,269.97 229.94,267.57 233.13,265.18 236.87,261.36 237.87,262.96 238.47,266.95 239.27,261.36 240.86,258.97 243.86,256.57 246.85,254.98 250.84,253.38 254.84,251.98 258.83,250.98 262.82,250.39 266.81,249.99 270.8,249.39" stroke="#111111"/><polyline points="175,329.83 177.99,330.82 180.98,330.82 184.98,331.22 188.97,330.82 191.96,330.43 193.19,328.27 197.19,318.69 201.18,307.51 204.38,294.73 207.57,281.95 209.17,278.75 211.57,276.36 215.56,271.57 220.35,268.37 225.14,265.97 229.94,264.38 234.73,261.98 239.52,260.38 241.86,257.37 244.86,255.97 248.85,254.38 252.84,252.58 256.83,251.38 260.82,249.99 264.82,248.59 268.81,247.99 270.8,247.39" stroke="#e8232b"/><polyline points="175,330.82 177.99,331.22 180.98,331.22 184.98,331.42 188.97,331.42 191.96,332.82 193.96,330.82 196.39,328.27 201.18,321.88 204.38,313.9 207.57,304.31 210.77,293.13 213.96,285.14 217.16,280.35 221.15,275.56 224.35,272.36 228.34,268.37 233.13,265.18 237.92,263.58 240.86,258.57 244.86,256.57 248.85,254.58 252.84,252.98 256.83,251.38 260.82,249.99 264.82,248.59 268.81,247.39 270.8,246.99" stroke="#2fb24a"/></g>
<path d="M173.7,336.98H175.2M172.8,333H175.2M173.7,329.02H175.2M173.7,325.04H175.2M173.7,321.06H175.2M172.8,317.08H175.2M173.7,313.1H175.2M173.7,309.12H175.2M173.7,305.14H175.2M172.8,301.16H175.2M173.7,297.18H175.2M173.7,293.2H175.2M173.7,289.22H175.2M172.8,285.24H175.2M173.7,281.26H175.2M173.7,277.28H175.2M173.7,273.3H175.2M172.8,269.32H175.2M173.7,265.34H175.2M173.7,261.36H175.2M173.7,257.38H175.2M172.8,253.4H175.2M173.7,249.42H175.2M175.2,340.2V344M178.3,340.2V342.4M181.39,340.2V342.4M184.49,340.2V342.4M187.59,340.2V342.4M190.68,340.2V344M193.78,340.2V342.4M196.88,340.2V342.4M199.97,340.2V342.4M203.07,340.2V342.4M206.17,340.2V344M209.26,340.2V342.4M212.36,340.2V342.4M215.46,340.2V342.4M218.55,340.2V342.4M221.65,340.2V344M224.75,340.2V342.4M227.85,340.2V342.4M230.94,340.2V342.4M234.04,340.2V342.4M237.14,340.2V344M240.23,340.2V342.4M243.33,340.2V342.4M246.43,340.2V342.4M249.52,340.2V342.4M252.62,340.2V344M255.72,340.2V342.4M258.81,340.2V342.4M261.91,340.2V342.4M265.01,340.2V342.4M268.1,340.2V344M271.2,340.2V342.4" stroke="#000" stroke-width="1.2" fill="none"/>
<rect x="175.2" y="245.3" width="96" height="94.9" fill="none" stroke="#000" stroke-width="1.4"/>
<text x="171" y="336.65" class="yl">0.0</text>
<text x="171" y="320.73" class="yl">0.2</text>
<text x="171" y="304.81" class="yl">0.4</text>
<text x="171" y="288.89" class="yl">0.6</text>
<text x="171" y="272.97" class="yl">0.8</text>
<text x="171" y="257.05" class="yl">1.0</text>
<text x="174.4" y="354.4" class="xl">0</text>
<text x="189.6" y="354.4" class="xl">10</text>
<text x="207.8" y="354.4" class="xl">20</text>
<text x="222.6" y="354.4" class="xl">30</text>
<text x="238.2" y="354.4" class="xl">40</text>
<text x="253.2" y="354.4" class="xl">50</text>
<text x="268.2" y="354.4" class="xl">60</text>
<text x="219.5" y="320.5" class="pl">PC/S/E/</text>
<text x="219.2" y="333.8" class="pl">chol</text>
<g clip-path="url(#cR3C3)" fill="none" stroke-width="1.7" stroke-linejoin="round" stroke-linecap="round"><polyline points="307.99,329.83 310.99,328.83 314.98,328.43 318.97,327.83 322.96,326.83 325,325.45 328.64,324.36 332.27,323.27 335.18,322.55 338.09,321.45 341,320.36 343.91,318.91 346.82,316.73 349.73,314.55 352.64,312 354.45,308.73 355.55,310.91 357.73,308 360.64,304.36 362.82,301.45 364.99,297.92 365.99,296.42 369.98,291.43 373.97,286.94 377.96,282.95 381.96,278.96 385.95,275.47 389.94,271.97 393.93,268.48 396.93,266.48 399.92,264.99" stroke="#111111"/><polyline points="310.99,328.83 314.98,328.43 318.97,327.83 322.96,327.23 325,326.91 328.64,325.82 332.27,325.09 334.45,324.36 335.91,325.82 338.09,325.09 340.27,323.64 342.45,324.36 345.36,323.27 348.27,322.18 351.18,320.73 354.09,318.91 357,316.73 358.45,316.36 359.91,315.27 362.09,313.09 364.27,310.91 366.99,307.4 370.98,302.91 374.97,298.42 378.96,293.93 382.95,289.94 386.95,286.44 390.94,283.45 394.93,280.75 397.92,278.96 399.92,277.76" stroke="#e8232b"/><polyline points="307.4,322.84 307.99,325.83 308.59,329.83 309.99,329.23 312.98,327.83 316.98,326.83 320.97,325.83 324.96,324.84 325,324.73 328.64,323.27 332.27,321.82 335.18,320.36 338.09,318.91 341,317.82 343.91,316.73 346.82,315.27 349.73,313.45 352.64,311.64 355.55,309.45 358.45,307.27 363.99,302.91 367.98,297.92 371.98,293.43 375.97,288.94 379.96,284.95 383.95,281.95 387.94,279.46 391.94,277.46 395.93,275.96 399.92,274.77" stroke="#2fb24a"/></g>
<path d="M306,337.5H307.5M305.1,333.5H307.5M306,329.5H307.5M306,325.49H307.5M306,321.49H307.5M305.1,317.48H307.5M306,313.48H307.5M306,309.47H307.5M306,305.47H307.5M305.1,301.46H307.5M306,297.45H307.5M306,293.45H307.5M306,289.44H307.5M305.1,285.44H307.5M306,281.44H307.5M306,277.43H307.5M306,273.43H307.5M305.1,269.42H307.5M306,265.42H307.5M306,261.41H307.5M306,257.41H307.5M305.1,253.4H307.5M306,249.39H307.5M306,245.39H307.5M307.5,340.1V343.9M310.93,340.1V342.3M314.36,340.1V342.3M317.79,340.1V342.3M321.21,340.1V343.9M324.64,340.1V342.3M328.07,340.1V342.3M331.5,340.1V342.3M334.93,340.1V343.9M338.36,340.1V342.3M341.79,340.1V342.3M345.21,340.1V342.3M348.64,340.1V343.9M352.07,340.1V342.3M355.5,340.1V342.3M358.93,340.1V342.3M362.36,340.1V343.9M365.79,340.1V342.3M369.21,340.1V342.3M372.64,340.1V342.3M376.07,340.1V343.9M379.5,340.1V342.3M382.93,340.1V342.3M386.36,340.1V342.3M389.79,340.1V343.9M393.21,340.1V342.3M396.64,340.1V342.3M400.07,340.1V342.3M403.5,340.1V343.9" stroke="#000" stroke-width="1.2" fill="none"/>
<rect x="307.5" y="244.9" width="96" height="95.2" fill="none" stroke="#000" stroke-width="1.4"/>
<text x="303.3" y="337.15" class="yl">0.0</text>
<text x="303.3" y="321.13" class="yl">0.2</text>
<text x="303.3" y="305.11" class="yl">0.4</text>
<text x="303.3" y="289.09" class="yl">0.6</text>
<text x="303.3" y="273.07" class="yl">0.8</text>
<text x="303.3" y="257.05" class="yl">1.0</text>
<text x="307.2" y="354.3" class="xl">0</text>
<text x="331.8" y="354.3" class="xl">40</text>
<text x="358.6" y="354.3" class="xl">80</text>
<text x="386" y="354.3" class="xl">120</text>
<text x="312.4" y="259.5" class="pl">PC/S/</text>
<text x="312.8" y="272.7" class="pl">E/TG</text>
<g clip-path="url(#cR3C4)" fill="none" stroke-width="1.7" stroke-linejoin="round" stroke-linecap="round"><polyline points="439.4,330.43 441.99,329.23 444.98,327.23 448.98,324.84 452.97,322.44 456.96,319.85 460,316.91 464.49,313.16 468.99,307.92 473.48,301.93 477.98,294.44 482.47,287.7 486.22,280.96 489.96,274.96 493.71,270.47 497.45,267.17 501.2,263.73 504.94,260.73 508.69,258.48 512.43,256.69 516.18,255.19 519.93,254.29 524.42,253.24 528.91,252.79 533.41,252.79 536.4,252.79" stroke="#111111"/><polyline points="439.4,330.43 441.99,329.23 444.98,327.23 448.98,324.84 452.97,322.44 456.96,319.85 460,316.91 464.49,313.16 468.99,307.92 473.48,302.68 477.98,295.94 482.47,288.45 486.22,281.7 489.96,275.71 493.71,271.22 497.45,267.47 501.2,263.73 504.94,260.73 508.69,258.48 512.43,256.24 516.18,254.74 518.43,253.69 519.93,254.74 521.42,253.24 524.42,252.49 527.42,252.19 530.41,252.49 533.41,252.19 536.4,252.49" stroke="#e8232b"/><polyline points="439.4,330.82 441.99,329.23 444.98,327.23 448.98,324.84 452.97,322.44 456.96,320.25 460,319.16 464.49,315.41 468.99,310.92 473.48,306.42 477.98,300.43 482.47,294.44 486.22,289.19 489.96,283.95 493.71,278.71 497.45,273.46 501.2,268.97 504.94,265.22 508.69,262.23 512.43,259.98 516.18,258.48 518.43,257.73 519.93,259.23 521.42,258.18 524.42,256.99 528.91,256.24 533.41,255.49 536.4,255.19" stroke="#2fb24a"/></g>
<path d="M437.6,337H439.1M436.7,333H439.1M437.6,329H439.1M437.6,324.99H439.1M437.6,320.99H439.1M436.7,316.98H439.1M437.6,312.98H439.1M437.6,308.97H439.1M437.6,304.97H439.1M436.7,300.96H439.1M437.6,296.95H439.1M437.6,292.95H439.1M437.6,288.94H439.1M436.7,284.94H439.1M437.6,280.94H439.1M437.6,276.93H439.1M437.6,272.93H439.1M436.7,268.92H439.1M437.6,264.92H439.1M437.6,260.91H439.1M437.6,256.91H439.1M436.7,252.9H439.1M437.6,248.89H439.1M439.1,339.2V343M442.54,339.2V341.4M445.97,339.2V341.4M449.41,339.2V341.4M452.84,339.2V343M456.28,339.2V341.4M459.71,339.2V341.4M463.15,339.2V341.4M466.59,339.2V343M470.02,339.2V341.4M473.46,339.2V341.4M476.89,339.2V341.4M480.33,339.2V343M483.76,339.2V341.4M487.2,339.2V341.4M490.64,339.2V341.4M494.07,339.2V343M497.51,339.2V341.4M500.94,339.2V341.4M504.38,339.2V341.4M507.81,339.2V343M511.25,339.2V341.4M514.69,339.2V341.4M518.12,339.2V341.4M521.56,339.2V343M524.99,339.2V341.4M528.43,339.2V341.4M531.86,339.2V341.4M535.3,339.2V343" stroke="#000" stroke-width="1.2" fill="none"/>
<rect x="439.1" y="244.8" width="96.2" height="94.4" fill="none" stroke="#000" stroke-width="1.4"/>
<text x="434.9" y="336.65" class="yl">0.0</text>
<text x="434.9" y="320.63" class="yl">0.2</text>
<text x="434.9" y="304.61" class="yl">0.4</text>
<text x="434.9" y="288.59" class="yl">0.6</text>
<text x="434.9" y="272.57" class="yl">0.8</text>
<text x="434.9" y="256.55" class="yl">1.0</text>
<text x="439.2" y="353.4" class="xl">0</text>
<text x="463.6" y="353.4" class="xl">40</text>
<text x="490.6" y="353.4" class="xl">80</text>
<text x="518" y="353.4" class="xl">120</text>
<text x="483.2" y="319.4" class="pl">PC/S/E</text>
<text x="482.6" y="332.9" class="pl">chol/TG</text>
<g clip-path="url(#cR4C1)" fill="none" stroke-width="1.7" stroke-linejoin="round" stroke-linecap="round"><polyline points="42,457.82 42.99,454.82 43.99,451.83 44.99,450.83 45.59,453.83 46.39,454.82 47.98,454.82 50.98,453.83 54.97,453.23 58.96,452.43 60,452.83 65.59,449.34 69.79,443.74 73.99,436.75 78.18,429.76 82.38,422.76 86.57,417.17 90.77,411.57 94.97,405.98 97.76,402.48 100.56,398.29 103.36,394.09 106.15,391.29 108.95,388.5 111.75,387.1 111.86,386.56 113.65,384.76 115.45,387.76 116.05,391.95 117.25,387.76 118.44,385.96 119.64,376.98 120.44,372.79 121.44,371.59 122.63,371.59 123.83,370.99 124.43,372.79 125.63,373.99 126.83,376.98 128.02,381.17 129.22,385.96 130.42,391.95 131.62,395.54 132.81,393.75 134.01,387.76 135.21,385.96 136.41,387.76 137.6,390.75 138.4,391.35" stroke="#111111"/><polyline points="42,443.85 42.4,450.83 42.99,455.82 43.99,458.82 45.99,455.82 48.98,454.43 52.97,453.83 56.97,453.23 60,453.53 65.59,450.73 71.19,443.74 75.38,438.15 79.58,432.55 83.78,426.96 87.97,422.76 92.17,417.17 96.36,412.27 100.56,407.38 103.36,401.78 106.15,394.79 108.95,391.29 111.75,389.9 113.85,384.17 115.45,385.96 116.65,388.36 117.84,385.36 119.04,382.97 119.84,387.76 120.84,393.15 121.64,396.14 122.24,387.76 122.83,382.97 123.43,379.97 124.43,387.16 125.23,393.75 125.83,396.14 126.43,390.75 127.43,382.97 128.02,370.39 128.62,378.78 129.42,373.39 130.42,377.58 131.22,373.99 132.22,379.97 133.01,372.79 134.01,369.79 134.61,381.17 135.21,375.78 135.81,390.75 136.61,381.17 137.41,378.78 138.2,385.96 138.8,387.16" stroke="#e8232b"/><polyline points="42,456.82 42.99,459.81 43.99,457.82 45.99,455.82 48.98,454.82 52.97,454.43 56.97,454.23 60,454.93 65.59,452.13 71.19,445.14 76.78,439.55 82.38,433.95 87.97,429.76 93.57,426.26 97.76,424.16 101.96,419.97 106.15,414.37 110.35,409.48 113.85,405.28 114.55,397.59 115.24,390.59 115.94,387.8 116.65,388.96 117.84,384.76 119.04,380.57 120.24,376.38 121.04,373.39 122.04,372.19 122.83,372.59 123.83,375.78 124.63,373.19 125.63,371.99 126.43,373.39 127.43,378.78 128.22,382.97 129.22,384.56 130.42,385.16 131.62,384.56 132.81,385.96 134.01,387.16 135.21,387.76 136.41,388.96 137.6,390.15 138.8,390.55" stroke="#2fb24a"/></g>
<path d="M40.8,460.95H42.3M39.9,457.2H42.3M40.8,453.45H42.3M40.8,449.7H42.3M40.8,445.95H42.3M39.9,442.2H42.3M40.8,438.45H42.3M40.8,434.7H42.3M40.8,430.95H42.3M39.9,427.2H42.3M40.8,423.45H42.3M40.8,419.7H42.3M40.8,415.95H42.3M39.9,412.2H42.3M40.8,408.45H42.3M40.8,404.7H42.3M40.8,400.95H42.3M39.9,397.2H42.3M40.8,393.45H42.3M40.8,389.7H42.3M40.8,385.95H42.3M39.9,382.2H42.3M40.8,378.45H42.3M40.8,374.7H42.3M40.8,370.95H42.3M42.3,464.3V468.1M48.24,464.3V466.5M54.18,464.3V466.5M60.11,464.3V466.5M66.05,464.3V466.5M71.99,464.3V468.1M77.93,464.3V466.5M83.87,464.3V466.5M89.81,464.3V466.5M95.74,464.3V466.5M101.68,464.3V468.1M107.62,464.3V466.5M113.56,464.3V466.5M119.5,464.3V466.5M125.44,464.3V466.5M131.37,464.3V468.1M137.31,464.3V466.5" stroke="#000" stroke-width="1.2" fill="none"/>
<rect x="42.3" y="369.1" width="96.2" height="95.2" fill="none" stroke="#000" stroke-width="1.4"/>
<text x="38.1" y="460.85" class="yl">0.0</text>
<text x="38.1" y="445.85" class="yl">0.2</text>
<text x="38.1" y="430.85" class="yl">0.4</text>
<text x="38.1" y="415.85" class="yl">0.6</text>
<text x="38.1" y="400.85" class="yl">0.8</text>
<text x="38.1" y="385.85" class="yl">1.0</text>
<text x="42.4" y="478.5" class="xl">0</text>
<text x="73.2" y="478.5" class="xl">50</text>
<text x="100.4" y="478.5" class="xl">100</text>
<text x="130.4" y="478.5" class="xl">150</text>
<text x="47.4" y="384.8" class="pl">BM1</text>
<g clip-path="url(#cR4C2)" fill="none" stroke-width="1.7" stroke-linejoin="round" stroke-linecap="round"><polyline points="175,454.82 175.99,452.83 177.99,451.83 180.58,451.83 181.98,454.82 182.98,458.82 184.98,459.22 188.97,458.42 192.96,456.82 195,454.04 199.49,448.8 203.97,441.32 208.46,432.35 212.95,424.87 217.43,418.14 221.92,412.16 226.41,405.43 229.4,402.43 233.89,399.44 238.37,394.21 242.86,390.47 245.85,387.48 247.65,385.68 248.45,388.96 249.85,386.96 251.84,385.96 254.84,382.97 256.83,380.97 258.83,379.38 260.82,378.58 263.82,378.98 266.81,377.98 268.81,378.98 270.8,377.98" stroke="#111111"/><polyline points="175,457.82 176.99,455.82 179.99,454.82 183.98,455.82 187.97,454.82 191.96,453.83 195.95,452.43 198.95,449.83 201.94,445.84 204.94,440.85 207.93,435.86 210.92,430.87 213.92,425.88 217.43,422.63 221.92,418.89 224.91,415.9 227.9,411.41 230.9,406.17 233.89,400.19 236.88,395.7 239.87,391.22 242.86,387.48 245.1,384.49 246.6,385.23 247.25,388.96 247.85,396.94 248.85,397.94 250.84,395.94 252.84,396.54 254.84,394.94 257.83,392.95 260.82,391.95 263.82,389.95 266.81,387.96 268.81,388.96 270.8,385.96" stroke="#e8232b"/><polyline points="175,459.22 176.99,457.82 179.99,456.42 183.98,455.42 187.97,454.82 191.96,453.83 195,451.79 199.49,447.3 203.97,439.83 208.46,431.6 212.95,425.62 217.43,421.88 221.92,418.14 226.41,412.9 230.9,406.92 233.89,400.94 236.88,396.45 241.37,390.47 244.36,387.48 246.6,383.74 247.65,382.69 248.45,392.95 249.85,390.95 251.84,388.56 254.84,385.36 257.83,382.57 260.82,380.57 263.82,379.97 266.81,378.98 268.81,378.58 270.8,380.97" stroke="#2fb24a"/></g>
<path d="M173,457.5H175.4M173.9,450.1H175.4M173,442.7H175.4M173.9,435.3H175.4M173,427.9H175.4M173.9,420.5H175.4M173,413.1H175.4M173.9,405.7H175.4M173,398.3H175.4M173.9,390.9H175.4M173,383.5H175.4M173.9,376.1H175.4M175.4,463.5V467.3M181.31,463.5V465.7M187.23,463.5V465.7M193.14,463.5V465.7M199.05,463.5V465.7M204.97,463.5V467.3M210.88,463.5V465.7M216.8,463.5V465.7M222.71,463.5V465.7M228.62,463.5V465.7M234.54,463.5V467.3M240.45,463.5V465.7M246.36,463.5V465.7M252.28,463.5V465.7M258.19,463.5V465.7M264.1,463.5V467.3M270.02,463.5V465.7" stroke="#000" stroke-width="1.2" fill="none"/>
<rect x="175.4" y="369.3" width="95.8" height="94.2" fill="none" stroke="#000" stroke-width="1.4"/>
<text x="171.2" y="461.15" class="yl">0.0</text>
<text x="171.2" y="446.35" class="yl">0.2</text>
<text x="171.2" y="431.55" class="yl">0.4</text>
<text x="171.2" y="416.75" class="yl">0.6</text>
<text x="171.2" y="401.95" class="yl">0.8</text>
<text x="171.2" y="387.15" class="yl">1.0</text>
<text x="176.2" y="477.7" class="xl">0</text>
<text x="206.6" y="477.7" class="xl">50</text>
<text x="234.4" y="477.7" class="xl">100</text>
<text x="264.4" y="477.7" class="xl">150</text>
<text x="179.2" y="385.1" class="pl">BM2</text>
<g clip-path="url(#cR4C3)" fill="none" stroke-width="1.7" stroke-linejoin="round" stroke-linecap="round"><polyline points="307,447.84 307.99,450.83 308.99,454.82 310.99,454.43 314.98,453.23 318.97,452.43 320,452.83 326.99,450.73 333.99,447.94 338.18,443.74 342.38,438.15 346.57,431.85 350.77,424.86 354.97,417.17 357.76,412.27 360.56,407.38 363.36,405.98 366.15,403.88 368.95,400.38 371.75,396.19 374.55,390.59 376.64,387.8 377.85,387.36 379.85,389.95 381.85,390.55 383.84,387.96 384.84,386.96 386.84,389.36 388.83,388.56 390.83,387.96 392.82,386.96 394.82,385.96 396.82,386.96 398.81,385.96 400.81,384.96 402.8,384.56" stroke="#111111"/><polyline points="307,452.83 308.99,454.82 311.99,453.23 314.98,452.43 318.97,451.23 320,451.43 326.99,449.34 333.99,447.66 338.18,445.14 342.38,443.04 346.57,440.94 350.77,436.75 354.97,431.15 359.16,422.76 361.96,415.77 364.76,408.78 367.55,401.78 370.35,396.89 373.15,393.39 375.94,389.2 378.04,387.1 378.45,381.97 379.85,380.97 381.85,378.98 383.24,372.99 384.84,370.99 385.84,373.99 386.84,371.99 387.83,379.97 388.83,372.99 390.43,381.97 391.83,374.98 392.82,386.96 393.82,378.98 394.82,382.97 395.82,372.99 396.82,384.96 397.81,370.99 398.81,386.96 400.41,374.98 401.81,380.97 403.2,374.98" stroke="#e8232b"/><polyline points="307,446.84 307.99,449.83 308.99,454.82 310.99,454.43 314.98,453.23 318.97,452.43 320,453.53 326.99,450.73 333.99,447.94 338.18,444.44 342.38,439.55 346.57,433.95 350.77,428.36 354.97,423.46 359.16,418.57 361.96,413.67 364.76,408.78 367.55,401.78 369.65,397.59 371.75,393.39 373.85,387.8 375.24,386.12 377.26,381.97 378.85,384.96 380.45,380.97 381.85,378.98 383.24,382.97 384.84,377.98 385.84,388.96 386.84,376.98 387.83,400.93 388.83,378.98 390.43,390.95 391.83,377.98 392.82,385.96 394.42,376.98 395.82,388.96 397.22,374.98 398.81,380.97 400.81,378.98 403.2,372.99" stroke="#2fb24a"/></g>
<path d="M305.7,461.73H307.2M304.8,458H307.2M305.7,454.27H307.2M305.7,450.55H307.2M305.7,446.82H307.2M304.8,443.1H307.2M305.7,439.38H307.2M305.7,435.65H307.2M305.7,431.93H307.2M304.8,428.2H307.2M305.7,424.48H307.2M305.7,420.75H307.2M305.7,417.02H307.2M304.8,413.3H307.2M305.7,409.57H307.2M305.7,405.85H307.2M305.7,402.12H307.2M304.8,398.4H307.2M305.7,394.68H307.2M305.7,390.95H307.2M305.7,387.23H307.2M304.8,383.5H307.2M305.7,379.77H307.2M305.7,376.05H307.2M305.7,372.32H307.2M307.2,464.1V467.9M313.14,464.1V466.3M319.09,464.1V466.3M325.03,464.1V466.3M330.98,464.1V466.3M336.92,464.1V467.9M342.87,464.1V466.3M348.81,464.1V466.3M354.76,464.1V466.3M360.7,464.1V466.3M366.64,464.1V467.9M372.59,464.1V466.3M378.53,464.1V466.3M384.48,464.1V466.3M390.42,464.1V466.3M396.37,464.1V467.9M402.31,464.1V466.3" stroke="#000" stroke-width="1.2" fill="none"/>
<rect x="307.2" y="368.8" width="96.3" height="95.3" fill="none" stroke="#000" stroke-width="1.4"/>
<text x="303" y="461.65" class="yl">0.0</text>
<text x="303" y="446.75" class="yl">0.2</text>
<text x="303" y="431.85" class="yl">0.4</text>
<text x="303" y="416.95" class="yl">0.6</text>
<text x="303" y="402.05" class="yl">0.8</text>
<text x="303" y="387.15" class="yl">1.0</text>
<text x="307.2" y="478.3" class="xl">0</text>
<text x="337.8" y="478.3" class="xl">50</text>
<text x="365.4" y="478.3" class="xl">100</text>
<text x="395.8" y="478.3" class="xl">150</text>
<text x="311.5" y="385.5" class="pl">BM3</text>
<g clip-path="url(#cR4C4)" fill="none" stroke-width="1.7" stroke-linejoin="round" stroke-linecap="round"><polyline points="439.4,453.83 440.99,455.22 442.99,455.82 444.58,454.82 445.98,453.23 448.98,452.83 452.97,452.43 455.96,451.23 457.96,450.43 459.95,451.83 462.95,450.83 465,449.28 471.39,445.29 477.78,437.3 482.57,429.31 487.36,421.33 492.16,413.34 496.95,406.15 503.34,398.96 509.73,392.57 516.12,387.78 522.51,382.99 528.9,379.79 534.49,376.92" stroke="#111111"/><polyline points="439.4,452.83 440.99,454.43 443.99,453.23 446.98,452.43 450.97,451.83 454.96,451.23 458.96,450.43 462.95,449.44 465,448.48 471.39,443.69 477.78,435.7 482.57,427.72 487.36,419.73 492.16,411.74 496.95,403.75 503.34,396.57 509.73,390.18 516.12,385.38 522.51,381.39 528.9,378.19 534.49,375.8" stroke="#e8232b"/><polyline points="439.4,457.82 440.99,454.82 442.99,453.83 445.98,452.43 448.98,451.83 452.97,451.23 456.96,450.43 460.95,449.83 464.94,449.24 465,450.08 471.39,447.68 477.78,442.09 484.17,434.11 488.96,426.12 493.75,418.13 498.55,410.94 503.34,404.55 509.73,397.36 516.12,391.77 522.51,386.98 528.9,382.19 534.49,377.88" stroke="#2fb24a"/></g>
<path d="M437.8,461.93H439.3M437.8,458.06H439.3M436.9,454.2H439.3M437.8,450.33H439.3M437.8,446.47H439.3M437.8,442.6H439.3M436.9,438.74H439.3M437.8,434.88H439.3M437.8,431.01H439.3M437.8,427.14H439.3M436.9,423.28H439.3M437.8,419.41H439.3M437.8,415.55H439.3M437.8,411.69H439.3M436.9,407.82H439.3M437.8,403.95H439.3M437.8,400.09H439.3M437.8,396.22H439.3M436.9,392.36H439.3M437.8,388.5H439.3M437.8,384.63H439.3M437.8,380.76H439.3M436.9,376.9H439.3M437.8,373.03H439.3M437.8,369.17H439.3M439.3,463.6V467.4M444.1,463.6V465.8M448.89,463.6V465.8M453.69,463.6V465.8M458.48,463.6V467.4M463.28,463.6V465.8M468.07,463.6V465.8M472.87,463.6V465.8M477.66,463.6V467.4M482.46,463.6V465.8M487.25,463.6V465.8M492.05,463.6V465.8M496.84,463.6V467.4M501.64,463.6V465.8M506.43,463.6V465.8M511.23,463.6V465.8M516.02,463.6V467.4M520.82,463.6V465.8M525.61,463.6V465.8M530.41,463.6V465.8M535.2,463.6V467.4" stroke="#000" stroke-width="1.2" fill="none"/>
<rect x="439.3" y="368.6" width="95.9" height="95" fill="none" stroke="#000" stroke-width="1.4"/>
<text x="435.1" y="457.85" class="yl">0.0</text>
<text x="435.1" y="442.39" class="yl">0.2</text>
<text x="435.1" y="426.93" class="yl">0.4</text>
<text x="435.1" y="411.47" class="yl">0.6</text>
<text x="435.1" y="396.01" class="yl">0.8</text>
<text x="435.1" y="380.55" class="yl">1.0</text>
<text x="439.4" y="477.8" class="xl">0</text>
<text x="459.8" y="477.8" class="xl">20</text>
<text x="478.4" y="477.8" class="xl">40</text>
<text x="497.4" y="477.8" class="xl">60</text>
<text x="515.7" y="477.8" class="xl">80</text>
<text x="536.8" y="477.8" class="xl">100</text>
<text x="445" y="386.6" class="pl">Abeta</text>
<text x="444.8" y="400.1" class="pl">_Only</text>
<text class="at" style="font-size:13.65px" transform="translate(15.0,238.1) rotate(-90)" text-anchor="middle">Normalized ThT Fluorescence Emission</text>
<text class="at" x="101.0" y="494.7">Incubation Time (hours)</text>
<text class="at" x="358.7" y="494.7">Incubation Time (hours)</text>
</svg>
</body></html>
